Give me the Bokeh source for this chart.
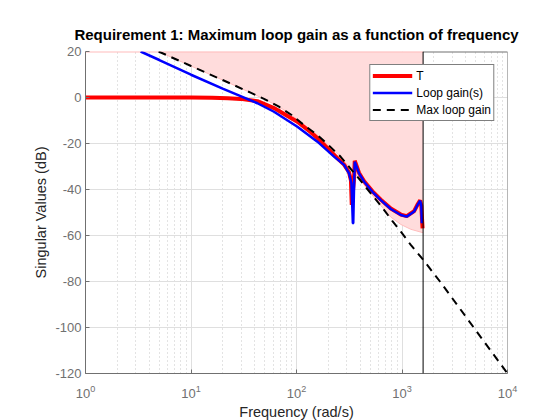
from bokeh.plotting import figure
from bokeh.models import Span, Legend, LegendItem, FixedTicker, PrintfTickFormatter
from bokeh.embed import file_html
from bokeh.resources import INLINE

# ---- data ----
# T (closed-loop), rad/s and dB
t_freq = [1, 10, 15.8, 22.4, 29.5, 42.6, 61.2, 101.9, 136.5, 157.8, 244.3, 282.5,
          314.8, 328.0, 334.0, 350.0, 356.5, 391.7, 437.5, 524.8, 629.5, 783.4,
          975.0, 1109, 1303, 1413, 1486, 1524, 1567]
t_db = [0.0, 0.0, -0.1, -0.3, -0.6, -1.6, -4.6, -10.5, -15.1, -17.6, -26.4, -29.2,
        -32.5, -36.0, -46.7, -36.0, -27.5, -32.8, -36.4, -40.8, -44.4, -48.3,
        -50.9, -51.6, -49.4, -46.3, -44.7, -47.0, -56.9]

# Loop gain(s)
lg_freq = [3.33, 5.01, 10, 19.95, 29.5, 42.6, 61.2, 101.9, 157.8, 227.0, 282.5,
           314.8, 331.9, 342.0, 345.1, 350.8, 356.5, 391.7, 437.5, 524.8, 629.5,
           783.4, 975.0, 1109, 1303, 1413, 1486, 1524, 1542]
lg_db = [20.0, 16.3, 9.9, 3.9, 0.6, -2.5, -6.2, -12.7, -19.2, -25.7, -29.3,
         -33.0, -37.3, -54.7, -54.7, -40.0, -27.9, -33.0, -36.6, -41.0, -44.6,
         -48.5, -51.1, -51.8, -49.6, -46.5, -44.9, -47.0, -54.7]

# Max loop gain (requirement)
mx_freq = [4.93, 10, 19.95, 36.7, 49.2, 68.2, 89.9, 117.8, 157.8, 203.2, 262.4,
           326.6, 406.4, 505.8, 629.5, 783.4, 975.0, 1211, 1585, 2291, 4786, 10000]
mx_db = [20.0, 13.7, 7.6, 2.1, -0.6, -4.0, -7.6, -12.0, -16.3, -20.9, -25.8,
         -31.0, -36.2, -41.7, -47.0, -52.8, -58.3, -64.1, -70.5, -80.0, -100.0, -120.0]

# Shaded (violation) region lower boundary
sh_freq = [4.93, 10, 19.95, 36.7, 49.2, 68.2, 89.9, 117.8, 157.8, 203.2, 262.4,
           326.6, 406.4, 505.8, 629.5, 783.4, 975.0, 1211, 1585]
sh_db = [20.0, 13.7, 7.6, 2.1, -0.6, -4.0, -7.6, -12.0, -16.3, -20.9, -25.8,
         -31.0, -36.2, -41.7, -47.0, -52.0, -55.2, -57.3, -58.8]

freq_limit = 1585
x_ticks = [1, 10, 100, 1000, 10000]
y_ticks = [-120, -100, -80, -60, -40, -20, 0, 20]
x_lo, x_hi = 1, 10000
y_lo, y_hi = -120, 20

FONT = "Liberation Sans"
GRAY = "#707070"

p = figure(x_axis_type="log", x_range=(x_lo, x_hi), y_range=(y_lo, y_hi),
           frame_width=422, frame_height=322,
           min_border_left=85, min_border_right=37, min_border_top=51, min_border_bottom=39,
           output_backend="svg", toolbar_location=None,
           title="Requirement 1: Maximum loop gain as a function of frequency")

p.title.text_font = FONT
p.title.text_font_size = "15px"
p.title.text_font_style = "bold"
p.title.text_color = "#000000"
p.title.align = "center"
p.title.standoff = 18

p.outline_line_color = None
p.background_fill_color = "white"
p.border_fill_color = "white"

# axes
p.xaxis.ticker = FixedTicker(ticks=x_ticks,
                             minor_ticks=[m * d for d in [1, 10, 100, 1000] for m in range(2, 10)])
p.yaxis.ticker = FixedTicker(ticks=y_ticks)
p.yaxis.formatter = PrintfTickFormatter(format="%d")
for ax in (p.xaxis, p.yaxis):
    ax.axis_line_color = GRAY
    ax.major_tick_line_color = GRAY
    ax.minor_tick_line_color = None
    ax.major_tick_in = 4
    ax.major_tick_out = 0
    ax.major_label_text_font = FONT
    ax.major_label_text_font_size = "13px"
    ax.major_label_text_color = GRAY
    ax.axis_label_text_font = FONT
    ax.axis_label_text_font_size = "14.5px"
    ax.axis_label_text_font_style = "normal"
    ax.axis_label_text_color = "#262626"
p.xaxis.axis_label = "Frequency (rad/s)"
p.yaxis.axis_label = "Singular Values (dB)"
p.xaxis.major_label_standoff = 7
p.yaxis.major_label_standoff = 4
p.xaxis.axis_label_standoff = 3
p.yaxis.axis_label_standoff = 3

# grids
p.xgrid.grid_line_color = "#dfdfdf"
p.ygrid.grid_line_color = "#dfdfdf"
p.xgrid.minor_grid_line_color = "#c6c6c6"
p.xgrid.minor_grid_line_dash = "1 3"
p.ygrid.minor_grid_line_color = None

# shaded region: between requirement boundary and top of axes
p.varea(x=sh_freq, y1=sh_db, y2=[y_hi] * len(sh_freq),
        fill_color="#ffdcdc", fill_alpha=1.0)
p.line(x=sh_freq, y=sh_db, line_color="#ffbcbc", line_width=1)

# box (top and right edges)
p.line(x=[x_lo, freq_limit], y=[y_hi, y_hi], line_color="#ffbcbc", line_width=2)
p.line(x=[freq_limit, x_hi], y=[y_hi, y_hi], line_color=GRAY, line_width=2)
p.add_layout(Span(location=x_hi, dimension="height", line_color=GRAY, line_width=1))

r_t = p.line(x=t_freq, y=t_db, line_color="#ff0000", line_width=4)
r_lg = p.line(x=lg_freq, y=lg_db, line_color="#0000ff", line_width=2.5)
r_mx = p.line(x=mx_freq, y=mx_db, line_color="#000000", line_width=2, line_dash="8 6")

p.add_layout(Span(location=freq_limit, dimension="height", line_color="black", line_width=1))

legend = Legend(items=[LegendItem(label="T", renderers=[r_t]),
                       LegendItem(label="Loop gain(s)", renderers=[r_lg]),
                       LegendItem(label="Max loop gain", renderers=[r_mx])],
                location="top_right")
legend.margin = 13
legend.padding = 2
legend.spacing = 0
legend.glyph_width = 40
legend.glyph_height = 17
legend.label_height = 17
legend.label_standoff = 4
legend.label_text_font = FONT
legend.label_text_font_size = "12px"
legend.label_text_color = "#000000"
legend.border_line_color = "#000000"
legend.border_line_width = 1
legend.background_fill_color = "white"
legend.background_fill_alpha = 1.0
p.add_layout(legend)

open("out.html", "w").write(file_html(p, INLINE))
